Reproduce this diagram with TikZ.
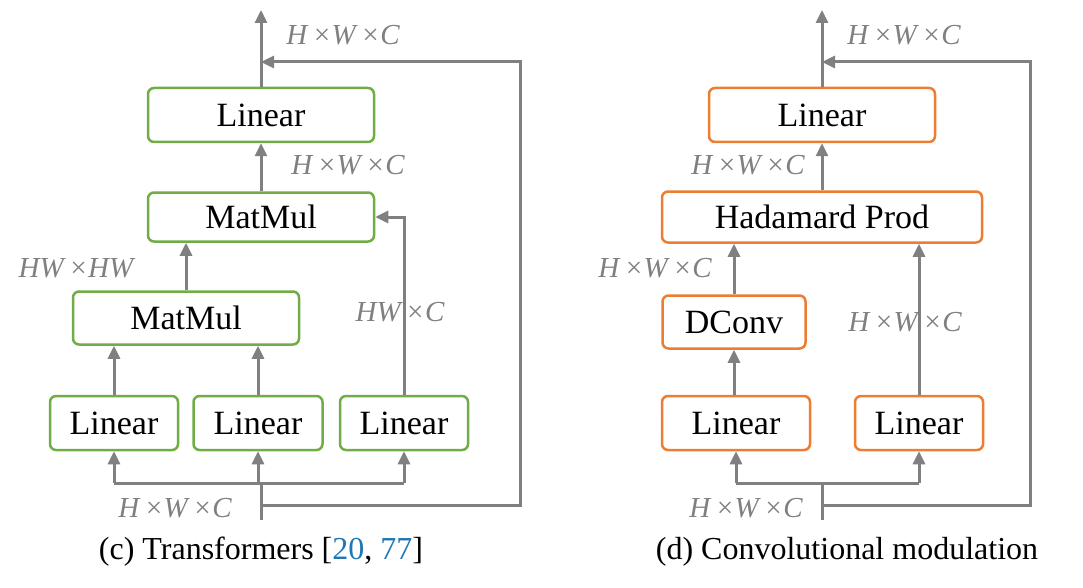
\documentclass[tikz,border=0pt]{standalone}
\usepackage{fontspec}
\setmainfont{Liberation Serif}
\usetikzlibrary{arrows.meta}
\definecolor{gn}{HTML}{70AD47}
\definecolor{og}{HTML}{ED7D31}
\definecolor{ln}{HTML}{808080}
\definecolor{cite}{HTML}{1F77B4}
\begin{document}
\begin{tikzpicture}[x=1pt,y=-1pt,
 box/.style={draw=#1,line width=2.5pt,rounded corners=6pt,fill=white,font=\fontsize{34}{36}\selectfont,inner sep=0pt,anchor=center},
 ar/.style={draw=ln,line width=3pt,-{Triangle[length=13pt,width=12pt]}},
 pl/.style={draw=ln,line width=3pt},
 lab/.style={text=ln,font=\fontsize{29}{30}\selectfont\itshape,inner sep=0pt},
 captxt/.style={font=\fontsize{32}{34}\selectfont,inner sep=0pt}]
\useasboundingbox (0,0) rectangle (1083,588);
% ---- left
\node[box=gn,minimum width=226pt,minimum height=54pt] (lt) at (261,115) {Linear};
\node[box=gn,minimum width=226pt,minimum height=49pt] (m2) at (261,217) {MatMul};
\node[box=gn,minimum width=226pt,minimum height=53pt] (m1) at (186,318) {MatMul};
\node[box=gn,minimum width=128pt,minimum height=54pt] (l1) at (114,423) {Linear};
\node[box=gn,minimum width=129pt,minimum height=54pt] (l2) at (258,423) {Linear};
\node[box=gn,minimum width=128pt,minimum height=54pt] (l3) at (404,423) {Linear};
\coordinate (inL) at (261,520);
\coordinate (busL) at (261,483);
\coordinate (topL) at (261,10);
\coordinate (skL) at (261,62);
\draw[pl] (inL) -- (busL);
\draw[pl] (114,483) -- (404,483);
\draw[ar] (114,483) -- (l1.south);
\draw[ar] (258,483) -- (l2.south);
\draw[ar] (404,483) -- (l3.south);
\draw[ar] (l1.north) -- (l1.north|-m1.south);
\draw[ar] (l2.north) -- (l2.north|-m1.south);
\draw[ar] (m1.north) -- (m1.north|-m2.south);
\draw[ar] (l3.north) |- (m2.east);
\draw[ar] (m2.north) -- (lt.south);
\draw[ar] (lt.north) -- (topL);
\draw[ar] (261,505) -- (520,505) -- (520,62) -- (skL);
\node[lab] at (175,508) {H\,×W\,×C};
\node[lab] at (343,35) {H\,×W\,×C};
\node[lab] at (348,165) {H\,×W\,×C};
\node[lab] at (76,268) {HW\,×HW};
\node[lab] at (400,312) {HW\,×C};
\node[captxt] at (261,552) {(c) Transformers [\textcolor{cite}{20}, \textcolor{cite}{77}]};
% ---- right
\node[box=og,minimum width=226pt,minimum height=54pt] (rt) at (822,115) {Linear};
\node[box=og,minimum width=320pt,minimum height=51pt] (hp) at (822,217) {Hadamard Prod};
\node[box=og,minimum width=143pt,minimum height=53pt] (dc) at (734,322) {DConv};
\node[box=og,minimum width=148pt,minimum height=54pt] (r1) at (736,423) {Linear};
\node[box=og,minimum width=128pt,minimum height=54pt] (r2) at (919,423) {Linear};
\coordinate (inR) at (822,520);
\coordinate (topR) at (822,10);
\coordinate (skR) at (822,62);
\draw[pl] (inR) -- (822,483);
\draw[pl] (736,483) -- (919,483);
\draw[ar] (736,483) -- (r1.south);
\draw[ar] (919,483) -- (r2.south);
\draw[ar] (r1.north-|dc.south) -- (dc.south);
\draw[ar] (dc.north) -- (dc.north|-hp.south);
\draw[ar] (r2.north) -- (r2.north|-hp.south);
\draw[ar] (hp.north) -- (rt.south);
\draw[ar] (rt.north) -- (topR);
\draw[ar] (822,505) -- (1030,505) -- (1030,62) -- (skR);
\node[lab] at (746,508) {H\,×W\,×C};
\node[lab] at (904,35) {H\,×W\,×C};
\node[lab] at (748,165) {H\,×W\,×C};
\node[lab] at (655,268) {H\,×W\,×C};
\node[lab] at (905,322) {H\,×W\,×C};
\node[captxt] at (847,552) {(d) Convolutional modulation};
\end{tikzpicture}
\end{document}
